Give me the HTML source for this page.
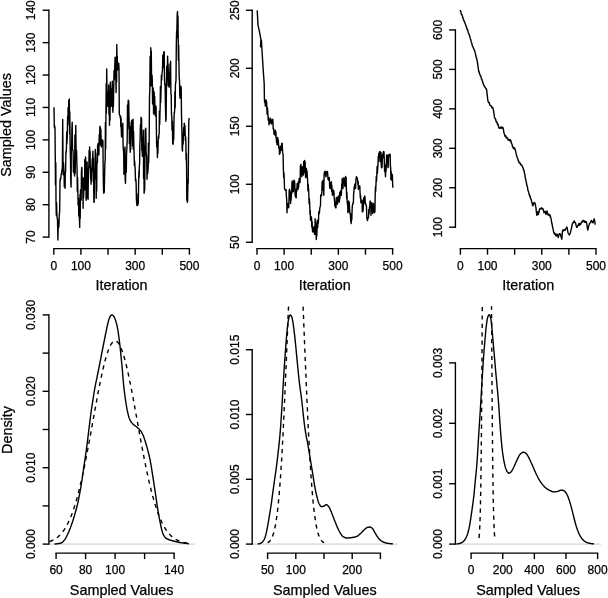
<!DOCTYPE html>
<html><head><meta charset="utf-8"><title>MCMC trace and density plots</title>
<style>
html,body{margin:0;padding:0;background:#fff;}
svg{display:block;font-family:"Liberation Sans",Arial,Helvetica,sans-serif;fill:#000;}
text{stroke:#000;stroke-width:0.25px;}
</style></head><body>
<svg width="608" height="598" viewBox="0 0 608 598">
<rect x="0" y="0" width="608" height="598" fill="#fff"/>
<line x1="53.10" y1="248.65" x2="190.10" y2="248.65" stroke="#000" stroke-width="1.4"/>
<line x1="53.80" y1="248.65" x2="53.80" y2="254.65" stroke="#000" stroke-width="1.4"/>
<line x1="80.92" y1="248.65" x2="80.92" y2="254.65" stroke="#000" stroke-width="1.4"/>
<line x1="108.04" y1="248.65" x2="108.04" y2="254.65" stroke="#000" stroke-width="1.4"/>
<line x1="135.16" y1="248.65" x2="135.16" y2="254.65" stroke="#000" stroke-width="1.4"/>
<line x1="162.28" y1="248.65" x2="162.28" y2="254.65" stroke="#000" stroke-width="1.4"/>
<line x1="189.40" y1="248.65" x2="189.40" y2="254.65" stroke="#000" stroke-width="1.4"/>
<text x="53.80" y="269.60" text-anchor="middle" font-size="12">0</text>
<text x="80.92" y="269.60" text-anchor="middle" font-size="12">100</text>
<text x="135.16" y="269.60" text-anchor="middle" font-size="12">300</text>
<text x="189.40" y="269.60" text-anchor="middle" font-size="12">500</text>
<text x="121.60" y="289.70" text-anchor="middle" font-size="14.4">Iteration</text>
<line x1="256.30" y1="248.65" x2="393.30" y2="248.65" stroke="#000" stroke-width="1.4"/>
<line x1="257.00" y1="248.65" x2="257.00" y2="254.65" stroke="#000" stroke-width="1.4"/>
<line x1="284.12" y1="248.65" x2="284.12" y2="254.65" stroke="#000" stroke-width="1.4"/>
<line x1="311.24" y1="248.65" x2="311.24" y2="254.65" stroke="#000" stroke-width="1.4"/>
<line x1="338.36" y1="248.65" x2="338.36" y2="254.65" stroke="#000" stroke-width="1.4"/>
<line x1="365.48" y1="248.65" x2="365.48" y2="254.65" stroke="#000" stroke-width="1.4"/>
<line x1="392.60" y1="248.65" x2="392.60" y2="254.65" stroke="#000" stroke-width="1.4"/>
<text x="257.00" y="269.60" text-anchor="middle" font-size="12">0</text>
<text x="284.12" y="269.60" text-anchor="middle" font-size="12">100</text>
<text x="338.36" y="269.60" text-anchor="middle" font-size="12">300</text>
<text x="392.60" y="269.60" text-anchor="middle" font-size="12">500</text>
<text x="324.80" y="289.70" text-anchor="middle" font-size="14.4">Iteration</text>
<line x1="459.70" y1="248.65" x2="596.70" y2="248.65" stroke="#000" stroke-width="1.4"/>
<line x1="460.40" y1="248.65" x2="460.40" y2="254.65" stroke="#000" stroke-width="1.4"/>
<line x1="487.52" y1="248.65" x2="487.52" y2="254.65" stroke="#000" stroke-width="1.4"/>
<line x1="514.64" y1="248.65" x2="514.64" y2="254.65" stroke="#000" stroke-width="1.4"/>
<line x1="541.76" y1="248.65" x2="541.76" y2="254.65" stroke="#000" stroke-width="1.4"/>
<line x1="568.88" y1="248.65" x2="568.88" y2="254.65" stroke="#000" stroke-width="1.4"/>
<line x1="596.00" y1="248.65" x2="596.00" y2="254.65" stroke="#000" stroke-width="1.4"/>
<text x="460.40" y="269.60" text-anchor="middle" font-size="12">0</text>
<text x="487.52" y="269.60" text-anchor="middle" font-size="12">100</text>
<text x="541.76" y="269.60" text-anchor="middle" font-size="12">300</text>
<text x="596.00" y="269.60" text-anchor="middle" font-size="12">500</text>
<text x="528.20" y="289.70" text-anchor="middle" font-size="14.4">Iteration</text>
<line x1="48.90" y1="9.53" x2="48.90" y2="237.80" stroke="#000" stroke-width="1.4"/>
<line x1="42.60" y1="237.10" x2="48.90" y2="237.10" stroke="#000" stroke-width="1.4"/>
<line x1="42.60" y1="204.69" x2="48.90" y2="204.69" stroke="#000" stroke-width="1.4"/>
<line x1="42.60" y1="172.28" x2="48.90" y2="172.28" stroke="#000" stroke-width="1.4"/>
<line x1="42.60" y1="139.87" x2="48.90" y2="139.87" stroke="#000" stroke-width="1.4"/>
<line x1="42.60" y1="107.46" x2="48.90" y2="107.46" stroke="#000" stroke-width="1.4"/>
<line x1="42.60" y1="75.05" x2="48.90" y2="75.05" stroke="#000" stroke-width="1.4"/>
<line x1="42.60" y1="42.64" x2="48.90" y2="42.64" stroke="#000" stroke-width="1.4"/>
<line x1="42.60" y1="10.23" x2="48.90" y2="10.23" stroke="#000" stroke-width="1.4"/>
<text transform="translate(35.30,237.10) rotate(-90)" text-anchor="middle" font-size="12">70</text>
<text transform="translate(35.30,204.69) rotate(-90)" text-anchor="middle" font-size="12">80</text>
<text transform="translate(35.30,172.28) rotate(-90)" text-anchor="middle" font-size="12">90</text>
<text transform="translate(35.30,139.87) rotate(-90)" text-anchor="middle" font-size="12">100</text>
<text transform="translate(35.30,107.46) rotate(-90)" text-anchor="middle" font-size="12">110</text>
<text transform="translate(35.30,75.05) rotate(-90)" text-anchor="middle" font-size="12">120</text>
<text transform="translate(35.30,42.64) rotate(-90)" text-anchor="middle" font-size="12">130</text>
<text transform="translate(35.30,10.23) rotate(-90)" text-anchor="middle" font-size="12">140</text>
<line x1="252.20" y1="9.60" x2="252.20" y2="243.00" stroke="#000" stroke-width="1.4"/>
<line x1="245.90" y1="242.30" x2="252.20" y2="242.30" stroke="#000" stroke-width="1.4"/>
<line x1="245.90" y1="184.30" x2="252.20" y2="184.30" stroke="#000" stroke-width="1.4"/>
<line x1="245.90" y1="126.30" x2="252.20" y2="126.30" stroke="#000" stroke-width="1.4"/>
<line x1="245.90" y1="68.30" x2="252.20" y2="68.30" stroke="#000" stroke-width="1.4"/>
<line x1="245.90" y1="10.30" x2="252.20" y2="10.30" stroke="#000" stroke-width="1.4"/>
<text transform="translate(238.60,242.30) rotate(-90)" text-anchor="middle" font-size="12">50</text>
<text transform="translate(238.60,184.30) rotate(-90)" text-anchor="middle" font-size="12">100</text>
<text transform="translate(238.60,126.30) rotate(-90)" text-anchor="middle" font-size="12">150</text>
<text transform="translate(238.60,68.30) rotate(-90)" text-anchor="middle" font-size="12">200</text>
<text transform="translate(238.60,10.30) rotate(-90)" text-anchor="middle" font-size="12">250</text>
<line x1="455.40" y1="29.25" x2="455.40" y2="227.90" stroke="#000" stroke-width="1.4"/>
<line x1="449.10" y1="227.20" x2="455.40" y2="227.20" stroke="#000" stroke-width="1.4"/>
<line x1="449.10" y1="187.75" x2="455.40" y2="187.75" stroke="#000" stroke-width="1.4"/>
<line x1="449.10" y1="148.30" x2="455.40" y2="148.30" stroke="#000" stroke-width="1.4"/>
<line x1="449.10" y1="108.85" x2="455.40" y2="108.85" stroke="#000" stroke-width="1.4"/>
<line x1="449.10" y1="69.40" x2="455.40" y2="69.40" stroke="#000" stroke-width="1.4"/>
<line x1="449.10" y1="29.95" x2="455.40" y2="29.95" stroke="#000" stroke-width="1.4"/>
<text transform="translate(441.80,227.20) rotate(-90)" text-anchor="middle" font-size="12">100</text>
<text transform="translate(441.80,187.75) rotate(-90)" text-anchor="middle" font-size="12">200</text>
<text transform="translate(441.80,148.30) rotate(-90)" text-anchor="middle" font-size="12">300</text>
<text transform="translate(441.80,108.85) rotate(-90)" text-anchor="middle" font-size="12">400</text>
<text transform="translate(441.80,69.40) rotate(-90)" text-anchor="middle" font-size="12">500</text>
<text transform="translate(441.80,29.95) rotate(-90)" text-anchor="middle" font-size="12">600</text>
<text transform="translate(11.40,124.90) rotate(-90)" text-anchor="middle" font-size="14.4">Sampled Values</text>
<polyline fill="none" stroke="#000" stroke-width="1.4" stroke-linejoin="round" stroke-linecap="butt" points="54.0,107.2 54.3,126.0 54.5,127.9 54.8,126.0 55.0,129.0 55.3,160.0 55.5,185.0 55.8,162.7 56.0,200.0 56.3,215.2 56.5,202.4 56.8,212.3 57.1,218.0 57.5,219.0 57.9,240.0 58.3,221.0 58.6,226.7 58.9,227.0 59.2,216.7 59.5,213.0 59.7,209.7 60.0,180.2 60.2,181.0 60.5,178.0 60.7,179.2 61.0,176.0 61.2,174.0 61.5,174.5 61.7,171.0 61.9,170.8 62.2,168.3 62.4,168.0 62.7,119.4 63.0,160.0 63.3,174.8 63.5,162.8 63.8,168.9 64.1,175.0 64.3,186.7 64.6,177.8 64.8,181.3 65.1,188.2 65.3,172.0 65.6,172.0 65.9,151.8 66.1,152.8 66.4,150.0 66.7,131.9 66.9,143.8 67.2,137.8 67.4,130.0 67.6,116.7 67.9,124.7 68.1,107.4 68.3,109.6 68.6,118.0 68.8,100.3 69.1,115.1 69.3,99.0 69.6,133.9 69.8,111.9 70.1,143.5 70.5,160.0 70.8,182.2 71.1,187.0 71.3,149.0 71.6,150.0 71.9,129.4 72.2,122.2 72.5,149.2 72.8,150.0 73.1,150.8 73.4,172.0 73.6,164.9 73.9,168.6 74.1,160.0 74.3,173.2 74.6,176.0 74.9,135.0 75.2,173.2 75.5,147.6 75.8,125.5 76.1,149.7 76.4,150.0 76.6,151.9 76.9,164.8 77.1,170.0 77.3,191.3 77.6,177.2 77.8,189.3 78.1,205.0 78.5,198.0 78.8,216.3 79.1,204.8 79.4,217.6 79.7,227.4 80.0,194.5 80.2,218.5 80.5,190.0 80.7,196.2 81.0,193.5 81.2,200.0 81.4,173.3 81.7,167.6 81.9,167.5 82.2,181.6 82.5,185.0 82.8,187.6 83.1,208.3 83.3,177.9 83.6,197.8 83.8,188.4 84.1,178.0 84.3,190.0 84.6,190.0 84.8,159.8 85.1,179.7 85.3,166.7 85.6,157.0 85.8,163.2 86.1,200.3 86.3,172.9 86.6,198.0 86.8,178.6 87.1,162.0 87.3,175.8 87.6,180.0 87.8,197.9 88.1,199.3 88.4,170.2 88.6,168.0 88.9,165.0 89.1,150.4 89.4,162.4 89.6,147.0 89.8,166.9 90.1,151.5 90.3,170.0 90.6,179.2 90.8,172.1 91.1,184.2 91.4,167.7 91.7,181.3 92.0,165.0 92.3,158.6 92.6,161.4 92.9,151.3 93.1,171.2 93.4,157.9 93.6,180.0 93.9,201.8 94.2,202.3 94.5,170.0 94.8,170.0 95.0,168.7 95.3,149.5 95.6,178.8 95.9,163.3 96.2,198.3 96.4,165.8 96.7,191.1 96.9,165.0 97.1,153.3 97.4,162.7 97.6,145.0 97.8,146.4 98.1,143.5 98.3,143.5 98.6,151.7 98.9,155.0 99.2,134.6 99.4,144.8 99.7,134.4 99.9,126.1 100.3,128.0 100.6,145.0 100.8,128.9 101.1,137.4 101.4,147.0 101.7,141.3 102.0,145.6 102.3,141.3 102.6,140.0 102.9,141.0 103.2,170.0 103.5,190.0 103.8,193.2 104.1,177.9 104.3,192.3 104.6,175.0 104.9,162.3 105.2,160.0 105.4,122.4 105.7,148.9 105.9,118.0 106.2,83.5 106.4,112.9 106.7,69.0 107.0,90.3 107.3,95.0 107.5,104.1 107.8,100.6 108.0,106.5 108.2,92.3 108.5,100.2 108.7,85.0 109.0,114.5 109.2,91.7 109.5,125.2 109.8,98.9 110.0,120.0 110.3,82.2 110.6,102.2 110.9,103.6 111.2,106.2 111.5,88.7 111.8,98.5 112.0,90.9 112.3,81.2 112.6,106.5 112.9,112.3 113.2,97.7 113.4,106.8 113.7,90.0 114.0,70.8 114.3,79.7 114.5,73.3 114.8,65.2 115.1,57.2 115.3,57.2 115.6,75.0 115.8,78.0 116.1,92.5 116.3,64.7 116.6,82.0 116.8,44.5 117.1,62.6 117.3,56.4 117.6,70.0 117.9,65.4 118.2,68.7 118.4,66.2 118.7,63.2 119.0,68.1 119.3,114.2 119.6,115.0 119.8,115.1 120.1,115.9 120.3,117.9 120.6,116.2 120.8,126.8 121.1,118.0 121.3,130.0 121.5,136.7 121.8,130.1 122.0,137.0 122.3,125.1 122.5,133.2 122.8,123.2 123.1,146.4 123.4,150.0 123.7,153.6 123.9,174.2 124.2,150.0 124.6,168.0 125.0,147.0 125.2,180.0 125.5,183.2 125.9,158.0 126.3,172.0 126.5,154.8 126.8,150.0 127.2,140.0 127.5,105.0 127.7,128.8 127.9,113.5 128.2,100.3 128.4,119.3 128.7,100.8 128.9,112.2 129.2,125.0 129.4,143.6 129.7,126.2 129.9,140.5 130.2,152.3 130.5,138.9 130.7,149.8 131.0,135.0 131.2,122.1 131.5,132.6 131.7,120.2 132.0,133.8 132.3,128.2 132.6,146.0 132.8,143.9 133.1,119.2 133.3,149.0 133.6,131.4 133.8,144.0 134.1,154.0 134.4,165.5 134.6,161.0 134.9,165.2 135.2,170.0 135.5,181.0 135.8,179.3 136.1,182.0 136.4,199.0 136.6,201.7 136.9,205.5 137.2,203.5 137.4,204.8 137.7,205.3 138.0,193.6 138.3,203.7 138.6,185.0 138.9,171.0 139.1,177.2 139.4,165.0 139.6,165.0 139.9,142.4 140.1,140.0 140.4,124.9 140.7,132.8 141.0,117.3 141.3,118.5 141.6,118.9 141.8,150.5 142.1,149.2 142.4,156.3 142.7,137.7 142.9,148.0 143.2,138.9 143.4,130.2 143.6,178.6 143.9,145.1 144.1,193.2 144.4,190.9 144.7,190.0 145.0,150.0 145.3,129.3 145.5,149.0 145.8,128.2 146.1,152.0 146.4,155.0 146.7,156.4 147.0,179.2 147.3,172.2 147.6,173.6 147.9,171.7 148.2,168.0 148.4,143.1 148.7,162.7 148.9,153.7 149.2,140.0 149.5,97.4 149.8,90.0 150.1,56.5 150.3,86.1 150.6,67.6 150.8,47.8 151.1,72.7 151.3,51.3 151.6,86.0 152.0,75.0 152.3,80.5 152.6,104.0 152.9,99.8 153.2,88.0 153.6,114.0 153.9,111.8 154.2,92.0 154.4,112.9 154.7,96.4 154.9,105.4 155.2,115.3 155.5,115.9 155.8,106.0 156.1,107.5 156.4,130.0 156.7,146.7 156.9,141.4 157.2,146.7 157.4,157.5 157.7,144.9 157.9,153.3 158.2,140.0 158.4,136.6 158.7,138.5 158.9,134.6 159.2,134.0 159.4,110.9 159.7,124.5 159.9,116.0 160.2,106.0 160.4,86.6 160.7,102.5 160.9,94.1 161.2,85.0 161.4,75.3 161.7,79.9 161.9,75.4 162.2,72.0 162.5,70.6 162.8,55.2 163.1,67.4 163.4,66.0 163.7,51.9 163.9,63.4 164.2,51.8 164.5,79.4 164.8,85.0 165.1,84.1 165.4,104.0 165.8,121.2 166.1,118.8 166.4,90.0 166.7,66.3 167.0,85.9 167.3,70.1 167.6,56.2 167.9,66.7 168.1,64.3 168.4,75.0 168.7,86.2 168.9,74.6 169.2,87.3 169.4,72.3 169.7,84.4 169.9,70.0 170.1,63.8 170.4,67.1 170.6,61.2 170.9,93.4 171.2,95.0 171.5,115.3 171.8,116.2 172.0,130.3 172.3,121.1 172.5,130.0 172.7,143.8 173.0,133.6 173.2,144.2 173.4,127.8 173.7,139.7 173.9,125.0 174.2,112.4 174.4,113.2 174.7,110.0 174.9,91.7 175.2,107.5 175.4,85.0 175.7,82.5 176.0,80.8 176.3,46.2 176.6,31.9 176.9,30.0 177.2,14.5 177.5,11.5 177.7,37.7 178.0,16.0 178.2,40.0 178.4,60.2 178.7,45.3 178.9,60.2 179.2,78.4 179.5,80.0 179.8,95.1 180.1,98.3 180.4,90.1 180.6,96.6 180.9,86.3 181.2,87.9 181.5,115.0 181.9,130.2 182.2,149.7 182.5,151.0 182.8,136.2 183.1,144.4 183.4,135.0 183.7,127.5 184.0,135.4 184.3,123.2 184.6,134.9 184.9,125.1 185.2,135.0 185.4,140.4 185.7,137.0 185.9,144.3 186.1,160.1 186.4,153.2 186.6,170.0 186.8,200.2 187.1,179.1 187.3,202.3 187.6,201.0 187.9,185.0 188.2,182.8 188.5,150.0 188.8,120.1 189.0,119.6 189.3,118.0"/>
<polyline fill="none" stroke="#000" stroke-width="1.4" stroke-linejoin="round" stroke-linecap="butt" points="257.2,10.4 258.0,25.1 259.5,31.8 260.9,39.3 260.5,46.8 261.4,40.1 262.0,50.2 263.0,66.9 264.2,83.6 264.4,98.0 264.6,102.3 264.9,100.3 265.1,102.8 265.4,106.1 265.6,100.7 265.9,105.0 266.1,100.0 266.3,101.2 266.6,101.9 266.8,107.4 267.1,114.2 267.4,107.5 267.7,111.9 268.0,115.4 268.2,120.2 268.5,117.3 268.8,120.8 269.0,124.8 269.3,120.4 269.6,123.3 269.8,121.6 270.1,119.5 270.4,118.1 270.7,119.3 271.0,122.4 271.3,123.4 271.6,123.9 271.9,120.8 272.1,119.7 272.4,119.4 272.7,119.3 272.9,120.6 273.2,128.9 273.4,128.4 273.7,128.8 274.0,134.1 274.2,131.2 274.5,133.2 274.8,134.8 275.1,133.2 275.3,130.1 275.6,135.8 275.9,131.6 276.1,137.7 276.4,139.5 276.6,142.6 276.9,140.5 277.1,144.8 277.4,139.8 277.7,137.5 278.0,144.9 278.2,139.7 278.5,143.8 278.8,147.5 279.0,148.2 279.3,149.5 279.5,154.2 279.8,149.6 280.1,153.4 280.4,146.2 280.6,147.0 280.9,148.6 281.1,149.7 281.4,150.2 281.7,143.3 281.9,148.7 282.2,143.5 282.5,150.7 282.8,152.9 283.1,154.7 283.4,170.0 283.7,177.4 283.9,172.6 284.2,178.4 284.5,188.4 284.8,189.4 285.1,189.2 285.4,190.1 285.6,190.5 285.9,189.6 286.1,189.6 286.4,196.8 286.7,199.6 287.0,212.7 287.2,206.9 287.5,207.9 287.8,206.2 288.0,203.5 288.2,203.9 288.5,205.5 288.7,207.7 288.9,203.3 289.2,189.9 289.4,190.7 289.7,189.3 290.0,197.5 290.3,191.6 290.6,203.5 290.9,198.4 291.1,199.9 291.4,193.5 291.7,193.8 291.9,183.9 292.2,180.9 292.5,188.2 292.8,186.1 293.1,191.8 293.4,191.5 293.6,182.9 293.9,180.1 294.2,180.7 294.5,181.4 294.8,183.9 295.1,194.3 295.4,196.5 295.6,195.4 295.9,197.6 296.2,197.7 296.4,189.1 296.7,191.6 296.9,188.7 297.2,183.4 297.5,187.2 297.8,186.2 298.1,189.3 298.4,181.4 298.6,187.3 298.9,182.2 299.2,178.4 299.5,179.9 299.8,181.0 300.1,182.6 300.4,166.7 300.6,165.1 300.9,164.5 301.2,167.3 301.5,173.8 301.8,176.8 302.1,171.8 302.3,174.0 302.6,166.7 302.9,169.1 303.1,169.8 303.4,175.1 303.7,161.6 304.0,173.0 304.3,165.5 304.6,160.4 304.9,169.3 305.1,161.7 305.4,170.1 305.6,177.6 305.9,170.2 306.1,169.3 306.4,168.4 306.7,176.9 307.0,171.0 307.3,176.6 307.6,180.1 307.9,190.7 308.2,184.3 308.5,188.4 308.8,193.5 309.1,203.8 309.3,198.5 309.6,202.4 309.8,206.9 310.0,214.6 310.3,210.6 310.5,220.2 310.8,220.1 311.0,217.7 311.2,218.7 311.5,216.9 311.8,227.0 312.1,221.4 312.3,228.3 312.6,231.9 312.9,231.4 313.2,229.6 313.5,227.4 313.8,226.9 314.1,232.4 314.3,230.1 314.6,234.4 314.9,234.3 315.1,218.6 315.4,232.5 315.7,221.7 316.0,231.6 316.3,239.5 316.6,230.2 316.8,236.0 317.1,228.6 317.4,220.1 317.7,227.4 317.9,223.5 318.2,223.5 318.5,220.2 318.8,211.8 319.1,213.5 319.4,213.1 319.6,210.5 319.9,207.5 320.2,206.9 320.5,205.4 320.7,195.5 321.0,194.6 321.3,194.5 321.5,195.7 321.8,193.5 322.1,181.6 322.4,190.4 322.7,184.8 323.0,180.1 323.3,188.4 323.5,184.2 323.8,195.2 324.1,174.6 324.4,172.4 324.7,171.7 325.0,174.2 325.2,171.3 325.5,174.5 325.7,175.7 326.0,176.8 326.3,173.0 326.6,171.8 326.9,171.4 327.2,171.4 327.5,171.7 327.7,173.9 328.0,179.3 328.2,179.2 328.5,180.1 328.8,178.4 329.0,177.5 329.3,177.6 329.6,186.1 329.9,188.3 330.2,186.8 330.5,188.5 330.8,182.5 331.1,188.1 331.4,181.8 331.6,191.3 331.9,185.4 332.1,190.0 332.4,195.2 332.7,194.6 332.9,190.5 333.2,190.5 333.5,190.1 333.8,191.3 334.0,192.8 334.2,198.4 334.5,200.2 334.8,205.7 335.0,202.4 335.2,204.6 335.5,207.7 335.8,206.7 336.0,207.7 336.2,198.4 336.5,197.5 336.8,203.7 337.0,199.5 337.2,203.6 337.5,204.3 337.8,197.1 338.0,199.6 338.2,197.3 338.5,196.0 338.8,200.8 339.1,202.0 339.4,201.9 339.7,192.4 339.9,198.6 340.2,194.6 340.5,191.0 340.8,192.9 341.1,192.5 341.4,195.2 341.7,184.1 341.9,188.2 342.2,178.5 342.5,186.8 342.7,181.0 343.0,188.5 343.3,180.0 343.6,179.7 343.9,177.6 344.2,182.0 344.4,179.3 344.7,186.0 345.0,179.0 345.3,180.9 345.6,176.5 345.9,187.0 346.1,177.5 346.4,190.2 346.7,198.5 346.9,192.1 347.2,201.9 347.4,204.1 347.7,202.4 347.9,212.7 348.2,210.4 348.4,211.4 348.7,201.0 349.0,205.8 349.3,202.1 349.6,208.6 349.9,212.9 350.1,213.9 350.4,213.6 350.7,221.6 350.9,216.0 351.2,223.6 351.5,214.3 351.8,220.1 352.1,210.2 352.4,205.2 352.6,205.1 352.9,203.0 353.1,203.5 353.4,203.0 353.6,194.4 353.9,191.8 354.2,186.9 354.4,188.6 354.7,184.3 355.0,184.3 355.3,185.8 355.6,188.5 355.9,180.0 356.1,179.0 356.4,176.8 356.7,178.2 357.0,177.5 357.3,178.8 357.6,180.1 357.9,184.4 358.1,181.4 358.4,189.3 358.7,187.2 359.0,187.0 359.3,186.0 359.6,187.4 359.8,185.9 360.1,193.5 360.4,198.2 360.6,195.7 360.9,202.7 361.2,202.2 361.5,200.9 361.8,200.2 362.1,200.2 362.3,211.9 362.6,211.1 362.9,211.5 363.1,210.0 363.4,205.2 363.7,197.7 364.0,203.8 364.2,200.1 364.5,198.1 364.8,196.0 365.1,199.1 365.3,202.6 365.6,203.5 365.9,205.2 366.2,205.4 366.5,206.9 366.8,217.4 367.1,219.4 367.4,220.5 367.7,219.0 367.9,217.9 368.2,217.6 368.5,217.8 368.8,209.4 369.0,214.3 369.2,211.1 369.5,206.9 369.8,205.6 370.1,201.0 370.4,202.4 370.7,202.5 371.0,215.3 371.3,203.8 371.5,203.0 371.8,202.7 372.1,209.1 372.3,205.0 372.6,213.6 372.9,207.3 373.2,208.9 373.5,203.5 373.8,211.9 374.0,206.9 374.3,212.7 374.6,212.6 374.9,211.7 375.2,195.2 375.5,186.8 375.7,191.2 376.0,183.5 376.3,176.5 376.5,181.3 376.8,175.1 377.1,166.5 377.4,173.3 377.7,168.4 378.0,165.1 378.3,156.1 378.5,161.1 378.8,153.4 379.1,152.9 379.4,152.9 379.7,151.7 380.0,151.5 380.2,161.4 380.5,161.7 380.8,152.7 381.0,152.5 381.3,166.5 381.5,167.9 381.8,167.6 382.1,167.1 382.4,155.0 382.7,155.1 383.0,154.5 383.2,152.4 383.5,151.4 383.8,158.0 384.0,151.8 384.3,161.7 384.6,171.2 384.9,164.7 385.2,172.0 385.5,176.8 385.8,167.7 386.1,171.4 386.4,161.7 386.6,155.6 386.9,154.9 387.1,155.1 387.4,155.1 387.7,157.0 387.9,167.0 388.2,167.6 388.5,155.0 388.7,156.6 389.0,155.1 389.3,154.6 389.6,154.7 389.9,154.2 390.2,154.9 390.4,165.7 390.7,168.4 390.9,179.6 391.2,171.5 391.4,180.1 391.7,174.4 391.9,174.2 392.2,174.3 392.4,176.5 392.7,185.4 392.9,187.7"/>
<polyline fill="none" stroke="#000" stroke-width="1.4" stroke-linejoin="round" stroke-linecap="butt" points="460.2,10.0 460.5,11.2 460.8,11.4 461.0,12.6 461.3,14.0 461.6,14.9 461.9,14.5 462.1,15.4 462.4,16.0 462.7,17.6 463.0,17.5 463.2,18.9 463.5,19.9 463.8,20.0 464.1,21.3 464.3,21.8 464.6,21.6 464.9,23.1 465.2,23.4 465.4,24.3 465.7,25.1 466.0,26.1 466.2,26.5 466.5,26.8 466.8,28.1 467.1,29.2 467.4,29.2 467.6,29.8 467.9,30.8 468.2,32.4 468.4,33.2 468.7,33.4 469.0,33.9 469.3,35.4 469.5,35.6 469.8,36.0 470.1,37.9 470.3,38.7 470.6,39.3 470.9,40.0 471.1,41.2 471.4,42.3 471.7,42.9 471.9,43.8 472.2,45.1 472.5,46.4 472.7,46.6 473.0,46.8 473.3,47.5 473.6,48.5 473.8,48.8 474.1,49.5 474.4,50.6 474.7,50.7 474.9,52.0 475.2,52.7 475.5,54.1 475.7,55.3 476.0,56.3 476.2,57.4 476.5,58.0 476.8,59.6 477.0,60.1 477.3,61.5 477.6,63.4 477.9,65.8 478.2,67.3 478.5,70.2 478.8,71.8 479.0,71.4 479.3,72.9 479.6,73.6 479.9,74.6 480.1,75.0 480.4,76.0 480.7,75.9 481.0,76.7 481.2,77.7 481.5,79.0 481.8,79.1 482.1,79.8 482.3,81.2 482.6,81.3 482.9,83.2 483.2,83.5 483.4,84.0 483.7,84.9 484.0,85.3 484.3,86.4 484.6,86.7 484.8,86.9 485.1,86.9 485.4,87.9 485.7,88.2 485.9,88.4 486.2,89.3 486.5,89.0 486.8,91.0 487.0,93.6 487.3,95.3 487.5,97.5 487.8,100.3 488.1,101.3 488.4,102.2 488.6,102.5 488.9,102.6 489.2,102.4 489.5,103.6 489.7,104.9 490.0,105.2 490.3,105.3 490.6,105.6 490.8,105.5 491.1,105.8 491.4,106.0 491.7,107.7 491.9,107.6 492.2,107.1 492.5,107.9 492.8,107.7 493.0,108.3 493.3,109.1 493.6,111.1 493.8,112.6 494.1,114.0 494.3,116.4 494.6,117.9 494.9,118.3 495.1,118.3 495.4,118.8 495.7,119.3 495.9,121.3 496.2,121.1 496.5,122.1 496.7,121.6 497.0,122.2 497.3,123.5 497.5,124.3 497.8,124.2 498.1,124.2 498.3,126.3 498.6,126.1 498.8,127.5 499.1,127.9 499.4,128.2 499.6,128.4 499.9,128.2 500.2,127.5 500.4,128.1 500.7,127.1 501.0,127.4 501.2,127.5 501.5,128.2 501.7,127.0 502.0,128.1 502.3,127.9 502.5,128.2 502.8,127.4 503.1,128.1 503.4,129.3 503.7,131.4 503.9,132.7 504.2,133.4 504.5,134.2 504.8,135.4 505.1,136.3 505.3,136.6 505.6,135.7 505.9,136.2 506.1,137.5 506.4,137.9 506.7,137.3 507.0,137.6 507.2,138.2 507.5,138.7 507.8,138.3 508.0,139.8 508.3,139.6 508.6,140.3 508.8,139.8 509.1,140.5 509.4,140.7 509.7,139.8 510.0,140.5 510.3,139.6 510.6,141.0 510.9,140.5 511.1,141.4 511.4,143.3 511.7,143.4 512.0,144.6 512.3,144.9 512.5,147.0 512.8,147.1 513.1,147.9 513.4,147.3 513.6,148.1 513.9,147.6 514.1,149.0 514.4,148.5 514.6,148.0 514.9,148.8 515.2,149.9 515.4,150.2 515.7,151.5 516.0,152.9 516.3,154.1 516.5,155.3 516.8,156.2 517.1,156.8 517.3,158.0 517.6,158.1 517.9,159.0 518.2,160.7 518.5,160.4 518.7,161.4 519.0,162.6 519.3,162.8 519.5,162.3 519.8,162.6 520.1,163.6 520.3,163.3 520.6,164.4 520.8,164.9 521.1,164.8 521.4,165.2 521.6,165.0 521.9,165.4 522.2,166.0 522.5,166.6 522.7,167.6 523.0,167.6 523.3,168.4 523.5,170.0 523.8,169.8 524.1,170.9 524.4,173.1 524.6,173.5 524.9,174.7 525.1,177.1 525.4,178.2 525.6,179.6 525.9,179.9 526.1,181.8 526.4,182.3 526.6,184.0 526.9,185.6 527.2,186.0 527.5,187.4 527.8,189.6 528.0,190.7 528.3,190.9 528.6,192.4 528.9,193.3 529.2,194.2 529.5,195.6 529.8,195.2 530.1,197.1 530.3,196.6 530.6,198.7 530.9,199.2 531.2,199.7 531.5,201.0 531.7,201.6 532.0,203.1 532.3,203.1 532.5,204.7 532.8,205.7 533.0,205.7 533.3,203.9 533.5,203.3 533.8,203.0 534.1,202.8 534.3,202.5 534.6,203.6 534.8,203.2 535.1,203.4 535.4,204.7 535.6,206.2 535.9,207.4 536.1,208.9 536.3,211.7 536.6,213.4 536.8,215.3 537.0,215.0 537.3,213.1 537.5,213.2 537.8,211.6 538.1,213.1 538.4,214.5 538.7,212.7 539.0,212.5 539.2,210.3 539.5,209.6 539.8,208.8 540.0,208.5 540.3,209.1 540.6,208.7 540.8,208.8 541.1,208.3 541.4,209.1 541.6,207.7 541.9,208.7 542.2,208.7 542.5,208.8 542.7,208.7 543.0,208.7 543.3,210.3 543.5,210.7 543.8,211.9 544.1,212.9 544.4,211.9 544.7,212.1 545.0,211.3 545.3,211.6 545.6,212.3 545.9,214.5 546.2,213.1 546.5,212.7 546.7,211.9 547.0,210.9 547.2,211.9 547.5,213.5 547.8,213.7 548.0,214.9 548.3,214.9 548.5,215.0 548.8,214.3 549.1,215.3 549.3,215.0 549.6,214.5 549.9,215.3 550.1,216.8 550.4,216.0 550.6,217.1 550.9,218.2 551.2,218.8 551.4,221.2 551.7,222.2 551.9,223.8 552.2,224.7 552.5,226.9 552.8,227.4 553.0,229.2 553.3,229.8 553.6,232.0 553.9,232.3 554.1,233.5 554.4,233.9 554.6,232.9 554.9,233.9 555.2,233.7 555.4,234.2 555.7,235.5 555.9,235.6 556.2,235.9 556.5,235.4 556.7,234.3 557.0,234.5 557.2,234.2 557.5,235.6 557.7,236.0 558.0,236.3 558.2,237.6 558.5,236.6 558.7,235.9 559.0,234.3 559.2,233.9 559.5,233.8 559.7,234.0 560.0,233.6 560.2,234.7 560.5,234.6 560.8,235.7 561.0,236.6 561.3,237.7 561.5,237.9 561.8,239.2 562.0,236.8 562.3,233.4 562.5,230.7 562.8,231.2 563.0,229.7 563.3,231.0 563.6,229.9 563.8,229.9 564.1,230.0 564.4,229.8 564.6,230.2 564.9,229.7 565.1,230.4 565.4,229.7 565.7,229.2 565.9,228.2 566.2,228.2 566.5,228.0 566.7,227.2 567.0,227.1 567.2,228.0 567.5,229.8 567.8,231.3 568.0,232.6 568.3,233.5 568.5,233.9 568.8,233.9 569.0,234.4 569.3,235.0 569.6,234.0 569.9,233.9 570.1,233.6 570.4,232.7 570.7,231.3 571.0,229.9 571.2,229.3 571.5,228.3 571.7,226.9 572.0,225.5 572.2,224.7 572.5,223.5 572.8,223.3 573.0,222.5 573.3,222.8 573.6,222.7 573.9,221.4 574.2,220.9 574.5,222.3 574.7,222.0 575.0,222.5 575.3,222.8 575.6,223.1 575.9,224.6 576.1,225.3 576.4,226.4 576.7,227.4 577.0,227.4 577.3,227.0 577.5,226.2 577.8,225.8 578.1,225.0 578.3,225.4 578.6,224.1 578.9,223.6 579.1,224.7 579.4,225.2 579.6,225.2 579.9,224.7 580.2,223.5 580.4,224.4 580.7,224.3 580.9,223.6 581.2,222.8 581.5,222.3 581.8,222.6 582.1,221.3 582.3,222.1 582.6,221.4 582.9,220.4 583.2,220.8 583.5,220.8 583.7,220.5 584.0,220.8 584.3,222.1 584.6,221.2 584.8,222.4 585.1,222.1 585.4,221.4 585.6,221.9 585.9,222.4 586.1,221.8 586.4,221.8 586.7,223.2 587.0,225.3 587.2,226.3 587.5,228.9 587.8,230.0 588.1,229.0 588.3,227.6 588.6,226.6 588.8,225.9 589.1,224.7 589.4,224.3 589.6,223.6 589.9,223.3 590.1,222.9 590.4,222.8 590.7,221.9 590.9,221.6 591.2,221.1 591.4,220.4 591.7,220.8 592.0,221.8 592.2,222.2 592.5,222.0 592.7,222.3 593.0,222.8 593.3,221.8 593.5,220.9 593.8,220.0 594.1,218.8 594.4,220.5 594.6,220.5 594.9,222.4 595.1,224.2 595.4,224.7"/>
<defs>
<clipPath id="c0"><rect x="48.9" y="306.3" width="146.0" height="246.8"/></clipPath>
<clipPath id="c1"><rect x="252.2" y="306.3" width="145.7" height="246.8"/></clipPath>
<clipPath id="c2"><rect x="455.4" y="306.3" width="145.60000000000002" height="246.8"/></clipPath>
</defs>
<line x1="48.90" y1="544.10" x2="194.90" y2="544.10" stroke="#d3d3d3" stroke-width="1.4"/>
<line x1="252.20" y1="544.10" x2="397.90" y2="544.10" stroke="#d3d3d3" stroke-width="1.4"/>
<line x1="455.40" y1="544.10" x2="601.00" y2="544.10" stroke="#d3d3d3" stroke-width="1.4"/>
<polyline fill="none" stroke="#000" stroke-width="1.4" stroke-linejoin="round" stroke-linecap="butt" clip-path="url(#c0)" points="54.5,544.0 54.9,544.0 55.3,544.0 55.7,543.9 56.1,543.9 56.5,543.9 56.9,543.8 57.3,543.8 57.7,543.7 58.1,543.7 58.5,543.6 58.9,543.5 59.3,543.5 59.7,543.4 60.1,543.3 60.5,543.2 60.9,543.0 61.3,542.9 61.7,542.7 62.1,542.5 62.5,542.1 62.9,541.8 63.3,541.4 63.7,540.9 64.1,540.4 64.5,539.9 64.9,539.4 65.3,538.8 65.7,538.1 66.1,537.3 66.5,536.6 66.9,535.8 67.3,535.0 67.7,534.2 68.1,533.3 68.5,532.4 68.9,531.4 69.3,530.4 69.7,529.4 70.1,528.4 70.5,527.4 70.9,526.3 71.3,525.3 71.7,524.1 72.1,523.0 72.5,521.8 72.9,520.6 73.3,519.3 73.7,518.1 74.1,516.7 74.5,515.4 74.9,514.0 75.3,512.6 75.7,511.2 76.1,509.7 76.5,508.2 76.9,506.7 77.3,505.1 77.7,503.4 78.1,501.6 78.5,499.7 78.9,497.7 79.3,495.6 79.7,493.5 80.1,491.3 80.5,489.1 80.9,486.8 81.3,484.4 81.7,481.9 82.1,479.3 82.5,476.5 82.9,473.6 83.3,470.7 83.7,467.9 84.1,465.2 84.5,462.6 84.9,459.9 85.3,457.2 85.7,454.4 86.1,451.5 86.5,448.6 86.9,445.6 87.3,442.5 87.7,439.3 88.1,436.0 88.5,432.7 88.9,429.3 89.3,426.1 89.7,422.9 90.1,419.6 90.5,416.5 90.9,413.5 91.3,410.7 91.7,407.9 92.1,405.3 92.5,402.7 92.9,400.1 93.3,397.5 93.7,395.0 94.1,392.5 94.5,390.1 94.9,387.8 95.3,385.6 95.7,383.6 96.1,381.7 96.5,379.8 96.9,377.9 97.3,376.0 97.7,374.0 98.1,372.0 98.5,370.0 98.9,368.0 99.3,366.0 99.7,364.0 100.1,361.9 100.5,359.8 100.9,357.8 101.3,355.7 101.7,353.7 102.1,351.6 102.5,349.6 102.9,347.5 103.3,345.5 103.7,343.5 104.1,341.5 104.5,339.5 104.9,337.5 105.3,335.5 105.7,333.5 106.1,331.6 106.5,329.6 106.9,327.7 107.3,325.8 107.7,324.0 108.1,322.4 108.5,320.9 108.9,319.6 109.3,318.4 109.7,317.4 110.1,316.6 110.5,315.9 110.9,315.4 111.3,315.1 111.7,314.9 112.1,314.9 112.5,315.1 112.9,315.3 113.3,315.7 113.7,316.2 114.1,316.8 114.5,317.6 114.9,318.5 115.3,319.6 115.7,320.8 116.1,322.1 116.5,323.6 116.9,325.2 117.3,327.0 117.7,329.0 118.1,331.5 118.5,334.3 118.9,337.2 119.3,340.3 119.7,343.7 120.1,347.2 120.5,350.9 120.9,354.9 121.3,359.0 121.7,363.0 122.1,367.1 122.5,371.5 122.9,376.6 123.3,381.8 123.7,385.9 124.1,389.3 124.5,392.5 124.9,395.5 125.3,398.6 125.7,401.4 126.1,404.0 126.5,406.4 126.9,408.6 127.3,410.7 127.7,412.5 128.1,414.2 128.5,415.8 128.9,417.2 129.3,418.3 129.7,419.3 130.1,420.1 130.5,420.9 130.9,421.5 131.3,422.1 131.7,422.7 132.1,423.1 132.5,423.6 132.9,424.0 133.3,424.4 133.7,424.7 134.1,425.1 134.5,425.4 134.9,425.7 135.3,426.0 135.7,426.2 136.1,426.5 136.5,426.8 136.9,427.1 137.3,427.4 137.7,427.8 138.1,428.1 138.5,428.5 138.9,428.8 139.3,429.2 139.7,429.7 140.1,430.1 140.5,430.6 140.9,431.2 141.3,431.9 141.7,432.5 142.1,433.3 142.5,434.1 142.9,434.9 143.3,435.8 143.7,436.8 144.1,437.9 144.5,439.1 144.9,440.3 145.3,441.5 145.7,442.8 146.1,444.1 146.5,445.5 146.9,446.9 147.3,448.4 147.7,449.9 148.1,451.4 148.5,453.0 148.9,454.6 149.3,456.3 149.7,458.1 150.1,460.0 150.5,462.1 150.9,464.3 151.3,466.7 151.7,469.2 152.1,471.8 152.5,474.3 152.9,476.9 153.3,479.4 153.7,482.0 154.1,484.6 154.5,487.3 154.9,489.9 155.3,492.6 155.7,495.3 156.1,498.1 156.5,500.9 156.9,503.7 157.3,506.3 157.7,508.9 158.1,511.3 158.5,513.7 158.9,515.9 159.3,518.1 159.7,520.2 160.1,522.2 160.5,524.1 160.9,526.0 161.3,527.8 161.7,529.5 162.1,531.0 162.5,532.3 162.9,533.4 163.3,534.4 163.7,535.2 164.1,536.0 164.5,536.6 164.9,537.1 165.3,537.6 165.7,538.0 166.1,538.4 166.5,538.6 166.9,538.8 167.3,539.0 167.7,539.2 168.1,539.4 168.5,539.5 168.9,539.7 169.3,539.8 169.7,539.9 170.1,540.1 170.5,540.2 170.9,540.3 171.3,540.4 171.7,540.6 172.1,540.7 172.5,540.8 172.9,540.9 173.3,541.0 173.7,541.1 174.1,541.2 174.5,541.3 174.9,541.4 175.3,541.5 175.7,541.6 176.1,541.7 176.5,541.8 176.9,541.9 177.3,542.0 177.7,542.1 178.1,542.2 178.5,542.3 178.9,542.3 179.3,542.4 179.7,542.5 180.1,542.6 180.5,542.6 180.9,542.7 181.3,542.8 181.7,542.8 182.1,542.9 182.5,542.9 182.9,543.0 183.3,543.0 183.7,543.1 184.1,543.1 184.5,543.2 184.9,543.2 185.3,543.3 185.7,543.3 186.1,543.4 186.5,543.4 186.9,543.5 187.3,543.5 187.7,543.6 188.1,543.6 188.5,543.7 188.9,543.8"/>
<polyline fill="none" stroke="#000" stroke-width="1.4" stroke-linejoin="round" stroke-linecap="butt" stroke-dasharray="4.2 4.2" clip-path="url(#c0)" points="41.4,543.3 41.7,543.3 42.1,543.2 42.5,543.2 42.8,543.1 43.2,543.1 43.6,543.0 43.9,542.9 44.3,542.9 44.7,542.8 45.0,542.7 45.4,542.7 45.8,542.6 46.1,542.5 46.5,542.4 46.9,542.3 47.2,542.3 47.6,542.2 48.0,542.1 48.4,542.0 48.7,541.8 49.1,541.7 49.5,541.6 49.8,541.5 50.2,541.3 50.6,541.2 50.9,541.1 51.3,540.9 51.7,540.8 52.0,540.6 52.4,540.4 52.8,540.3 53.1,540.1 53.5,539.9 53.9,539.7 54.3,539.5 54.6,539.3 55.0,539.0 55.4,538.8 55.7,538.5 56.1,538.3 56.5,538.0 56.8,537.8 57.2,537.5 57.6,537.2 57.9,536.9 58.3,536.6 58.7,536.2 59.1,535.9 59.4,535.5 59.8,535.2 60.2,534.8 60.5,534.4 60.9,534.0 61.3,533.6 61.6,533.1 62.0,532.7 62.4,532.2 62.7,531.8 63.1,531.3 63.5,530.7 63.8,530.2 64.2,529.7 64.6,529.1 65.0,528.5 65.3,527.9 65.7,527.3 66.1,526.7 66.4,526.0 66.8,525.4 67.2,524.7 67.5,524.0 67.9,523.2 68.3,522.5 68.6,521.7 69.0,520.9 69.4,520.1 69.7,519.2 70.1,518.4 70.5,517.5 70.8,516.6 71.2,515.7 71.6,514.7 72.0,513.7 72.3,512.7 72.7,511.7 73.1,510.7 73.4,509.6 73.8,508.5 74.2,507.4 74.5,506.3 74.9,505.1 75.3,503.9 75.6,502.7 76.0,501.4 76.4,500.2 76.8,498.9 77.1,497.5 77.5,496.2 77.9,494.8 78.2,493.4 78.6,492.0 79.0,490.6 79.3,489.1 79.7,487.6 80.1,486.1 80.4,484.5 80.8,483.0 81.2,481.4 81.5,479.8 81.9,478.1 82.3,476.5 82.7,474.8 83.0,473.1 83.4,471.4 83.8,469.6 84.1,467.8 84.5,466.0 84.9,464.2 85.2,462.4 85.6,460.6 86.0,458.7 86.3,456.8 86.7,454.9 87.1,453.0 87.4,451.1 87.8,449.1 88.2,447.2 88.6,445.2 88.9,443.2 89.3,441.2 89.7,439.2 90.0,437.2 90.4,435.2 90.8,433.1 91.1,431.1 91.5,429.1 91.9,427.0 92.2,425.0 92.6,422.9 93.0,420.9 93.3,418.8 93.7,416.7 94.1,414.7 94.5,412.7 94.8,410.6 95.2,408.6 95.6,406.5 95.9,404.5 96.3,402.5 96.7,400.5 97.0,398.5 97.4,396.6 97.8,394.6 98.1,392.6 98.5,390.7 98.9,388.8 99.2,386.9 99.6,385.1 100.0,383.2 100.3,381.4 100.7,379.6 101.1,377.8 101.5,376.1 101.8,374.4 102.2,372.7 102.6,371.0 102.9,369.4 103.3,367.8 103.7,366.3 104.0,364.8 104.4,363.3 104.8,361.9 105.1,360.5 105.5,359.1 105.9,357.8 106.2,356.5 106.6,355.3 107.0,354.1 107.4,353.0 107.7,351.9 108.1,350.8 108.5,349.8 108.8,348.9 109.2,348.0 109.6,347.2 109.9,346.4 110.3,345.6 110.7,344.9 111.0,344.3 111.4,343.7 111.8,343.2 112.2,342.7 112.5,342.3 112.9,341.9 113.3,341.6 113.6,341.4 114.0,341.2 114.4,341.0 114.7,340.9 115.1,340.9 115.5,340.9 115.8,341.0 116.2,341.2 116.6,341.4 116.9,341.6 117.3,341.9 117.7,342.3 118.1,342.7 118.4,343.2 118.8,343.7 119.2,344.3 119.5,344.9 119.9,345.6 120.3,346.4 120.6,347.2 121.0,348.0 121.4,348.9 121.7,349.8 122.1,350.8 122.5,351.9 122.8,353.0 123.2,354.1 123.6,355.3 124.0,356.5 124.3,357.8 124.7,359.1 125.1,360.5 125.4,361.9 125.8,363.3 126.2,364.8 126.5,366.3 126.9,367.8 127.3,369.4 127.6,371.0 128.0,372.7 128.4,374.4 128.7,376.1 129.1,377.8 129.5,379.6 129.8,381.4 130.2,383.2 130.6,385.1 131.0,386.9 131.3,388.8 131.7,390.7 132.1,392.6 132.4,394.6 132.8,396.6 133.2,398.5 133.5,400.5 133.9,402.5 134.3,404.5 134.6,406.5 135.0,408.6 135.4,410.6 135.8,412.7 136.1,414.7 136.5,416.7 136.9,418.8 137.2,420.9 137.6,422.9 138.0,425.0 138.3,427.0 138.7,429.1 139.1,431.1 139.4,433.1 139.8,435.2 140.2,437.2 140.5,439.2 140.9,441.2 141.3,443.2 141.7,445.2 142.0,447.2 142.4,449.1 142.8,451.1 143.1,453.0 143.5,454.9 143.9,456.8 144.2,458.7 144.6,460.6 145.0,462.4 145.3,464.2 145.7,466.0 146.1,467.8 146.4,469.6 146.8,471.4 147.2,473.1 147.6,474.8 147.9,476.5 148.3,478.1 148.7,479.8 149.0,481.4 149.4,483.0 149.8,484.5 150.1,486.1 150.5,487.6 150.9,489.1 151.2,490.6 151.6,492.0 152.0,493.4 152.3,494.8 152.7,496.2 153.1,497.5 153.5,498.9 153.8,500.2 154.2,501.4 154.6,502.7 154.9,503.9 155.3,505.1 155.7,506.3 156.0,507.4 156.4,508.5 156.8,509.6 157.1,510.7 157.5,511.7 157.9,512.7 158.2,513.7 158.6,514.7 159.0,515.7 159.3,516.6 159.7,517.5 160.1,518.4 160.5,519.2 160.8,520.1 161.2,520.9 161.6,521.7 161.9,522.5 162.3,523.2 162.7,524.0 163.0,524.7 163.4,525.4 163.8,526.0 164.1,526.7 164.5,527.3 164.9,527.9 165.2,528.5 165.6,529.1 166.0,529.7 166.4,530.2 166.7,530.7 167.1,531.3 167.5,531.8 167.8,532.2 168.2,532.7 168.6,533.1 168.9,533.6 169.3,534.0 169.7,534.4 170.0,534.8 170.4,535.2 170.8,535.5 171.2,535.9 171.5,536.2 171.9,536.6 172.3,536.9 172.6,537.2 173.0,537.5 173.4,537.8 173.7,538.0 174.1,538.3 174.5,538.5 174.8,538.8 175.2,539.0 175.6,539.3 175.9,539.5 176.3,539.7 176.7,539.9 177.1,540.1 177.4,540.3 177.8,540.4 178.2,540.6 178.5,540.8 178.9,540.9 179.3,541.1 179.6,541.2 180.0,541.3 180.4,541.5 180.7,541.6 181.1,541.7 181.5,541.8 181.8,542.0 182.2,542.1 182.6,542.2 183.0,542.3 183.3,542.3 183.7,542.4 184.1,542.5 184.4,542.6 184.8,542.7 185.2,542.7 185.5,542.8 185.9,542.9 186.3,542.9 186.6,543.0 187.0,543.1 187.4,543.1 187.7,543.2 188.1,543.2 188.5,543.3 188.8,543.3"/>
<polyline fill="none" stroke="#000" stroke-width="1.4" stroke-linejoin="round" stroke-linecap="butt" clip-path="url(#c1)" points="257.7,544.0 258.1,544.0 258.5,543.9 258.9,543.8 259.3,543.7 259.7,543.6 260.1,543.5 260.5,543.3 260.9,543.1 261.3,542.9 261.7,542.6 262.1,542.3 262.5,541.9 262.9,541.5 263.3,540.9 263.7,540.3 264.1,539.6 264.5,538.8 264.9,537.7 265.3,536.5 265.7,535.1 266.1,533.6 266.5,531.9 266.9,530.0 267.3,527.9 267.7,525.8 268.1,523.5 268.5,521.2 268.9,518.8 269.3,516.3 269.7,513.9 270.1,511.4 270.5,509.0 270.9,506.4 271.3,503.8 271.7,501.0 272.1,497.9 272.5,494.9 272.9,491.8 273.3,488.9 273.7,486.1 274.1,483.3 274.5,480.5 274.9,477.7 275.3,475.0 275.7,472.2 276.1,469.3 276.5,466.2 276.9,463.0 277.3,459.8 277.7,456.4 278.1,452.9 278.5,449.3 278.9,445.6 279.3,441.9 279.7,437.8 280.1,433.4 280.5,428.3 280.9,422.7 281.3,416.7 281.7,410.4 282.1,403.7 282.5,396.8 282.9,389.7 283.3,383.0 283.7,376.6 284.1,370.3 284.5,364.1 284.9,358.1 285.3,352.4 285.7,347.0 286.1,341.9 286.5,337.3 286.9,332.7 287.3,328.5 287.7,324.9 288.1,322.1 288.5,319.6 288.9,317.6 289.3,316.5 289.7,315.7 290.1,315.1 290.5,315.0 290.9,315.3 291.3,316.0 291.7,316.8 292.1,317.9 292.5,319.9 292.9,322.2 293.3,324.7 293.7,327.6 294.1,330.8 294.5,334.2 294.9,337.8 295.3,341.6 295.7,345.7 296.1,349.8 296.5,353.9 296.9,358.1 297.3,362.3 297.7,366.5 298.1,370.5 298.5,374.4 298.9,378.3 299.3,381.9 299.7,385.2 300.1,388.3 300.5,391.1 300.9,393.9 301.3,396.8 301.7,400.0 302.1,403.5 302.5,407.3 302.9,411.2 303.3,414.9 303.7,418.4 304.1,421.8 304.5,425.0 304.9,428.1 305.3,430.7 305.7,433.1 306.1,435.3 306.5,437.3 306.9,439.3 307.3,441.3 307.7,443.5 308.1,445.8 308.5,448.2 308.9,450.6 309.3,453.0 309.7,455.5 310.1,457.9 310.5,460.3 310.9,462.7 311.3,465.1 311.7,467.5 312.1,469.9 312.5,472.4 312.9,474.9 313.3,477.5 313.7,480.2 314.1,482.7 314.5,485.1 314.9,487.2 315.3,489.3 315.7,491.3 316.1,493.1 316.5,494.8 316.9,496.5 317.3,498.1 317.7,499.7 318.1,501.1 318.5,502.3 318.9,503.2 319.3,504.0 319.7,504.7 320.1,505.4 320.5,506.0 320.9,506.4 321.3,506.6 321.7,506.6 322.1,506.6 322.5,506.5 322.9,506.4 323.3,506.3 323.7,506.3 324.1,506.1 324.5,505.9 324.9,505.5 325.3,505.1 325.7,504.8 326.1,504.6 326.5,504.6 326.9,504.8 327.3,505.1 327.7,505.4 328.1,505.9 328.5,506.4 328.9,506.9 329.3,507.5 329.7,508.3 330.1,509.2 330.5,510.1 330.9,511.1 331.3,512.0 331.7,513.0 332.1,513.9 332.5,515.0 332.9,516.0 333.3,517.1 333.7,518.1 334.1,519.2 334.5,520.2 334.9,521.3 335.3,522.2 335.7,523.2 336.1,524.2 336.5,525.2 336.9,526.2 337.3,527.1 337.7,528.0 338.1,528.9 338.5,529.7 338.9,530.5 339.3,531.2 339.7,532.0 340.1,532.7 340.5,533.4 340.9,534.1 341.3,534.7 341.7,535.3 342.1,535.8 342.5,536.2 342.9,536.5 343.3,536.7 343.7,537.0 344.1,537.2 344.5,537.4 344.9,537.6 345.3,537.8 345.7,537.9 346.1,538.0 346.5,538.0 346.9,538.0 347.3,538.0 347.7,538.0 348.1,537.9 348.5,537.9 348.9,537.9 349.3,537.8 349.7,537.8 350.1,537.8 350.5,537.7 350.9,537.7 351.3,537.6 351.7,537.6 352.1,537.5 352.5,537.5 352.9,537.4 353.3,537.3 353.7,537.3 354.1,537.2 354.5,537.1 354.9,537.0 355.3,536.9 355.7,536.8 356.1,536.6 356.5,536.5 356.9,536.3 357.3,536.1 357.7,535.9 358.1,535.6 358.5,535.3 358.9,534.9 359.3,534.6 359.7,534.2 360.1,533.9 360.5,533.5 360.9,533.2 361.3,532.8 361.7,532.3 362.1,531.9 362.5,531.5 362.9,531.1 363.3,530.7 363.7,530.3 364.1,529.9 364.5,529.6 364.9,529.2 365.3,528.8 365.7,528.5 366.1,528.2 366.5,527.9 366.9,527.7 367.3,527.5 367.7,527.4 368.1,527.3 368.5,527.2 368.9,527.1 369.3,527.0 369.7,527.0 370.1,527.0 370.5,527.1 370.9,527.3 371.3,527.6 371.7,527.8 372.1,528.1 372.5,528.5 372.9,529.0 373.3,529.6 373.7,530.3 374.1,531.1 374.5,531.9 374.9,532.6 375.3,533.3 375.7,533.9 376.1,534.6 376.5,535.3 376.9,535.9 377.3,536.5 377.7,537.1 378.1,537.7 378.5,538.2 378.9,538.7 379.3,539.1 379.7,539.5 380.1,539.9 380.5,540.2 380.9,540.6 381.3,540.9 381.7,541.2 382.1,541.4 382.5,541.6 382.9,541.8 383.3,542.0 383.7,542.2 384.1,542.4 384.5,542.5 384.9,542.6 385.3,542.8 385.7,542.9 386.1,543.0 386.5,543.1 386.9,543.2 387.3,543.2 387.7,543.3 388.1,543.4 388.5,543.4 388.9,543.5 389.3,543.5 389.7,543.6 390.1,543.6 390.5,543.7 390.9,543.7 391.3,543.8 391.7,543.8 392.1,543.9 392.5,543.9 392.9,544.0"/>
<polyline fill="none" stroke="#000" stroke-width="1.4" stroke-linejoin="round" stroke-linecap="butt" stroke-dasharray="4.2 4.2" clip-path="url(#c1)" points="267.6,542.8 267.7,542.7 267.9,542.6 268.0,542.5 268.2,542.4 268.3,542.3 268.4,542.3 268.6,542.2 268.7,542.0 268.9,541.9 269.0,541.8 269.2,541.7 269.3,541.6 269.4,541.4 269.6,541.3 269.7,541.1 269.9,541.0 270.0,540.8 270.1,540.6 270.3,540.5 270.4,540.3 270.6,540.1 270.7,539.9 270.8,539.7 271.0,539.4 271.1,539.2 271.3,539.0 271.4,538.7 271.5,538.4 271.7,538.2 271.8,537.9 272.0,537.6 272.1,537.3 272.3,536.9 272.4,536.6 272.5,536.3 272.7,535.9 272.8,535.5 273.0,535.1 273.1,534.7 273.2,534.3 273.4,533.8 273.5,533.4 273.7,532.9 273.8,532.4 273.9,531.9 274.1,531.3 274.2,530.8 274.4,530.2 274.5,529.6 274.7,529.0 274.8,528.3 274.9,527.7 275.1,527.0 275.2,526.3 275.4,525.5 275.5,524.8 275.6,524.0 275.8,523.2 275.9,522.3 276.1,521.5 276.2,520.6 276.3,519.7 276.5,518.7 276.6,517.7 276.8,516.7 276.9,515.7 277.0,514.6 277.2,513.5 277.3,512.4 277.5,511.2 277.6,510.0 277.8,508.7 277.9,507.5 278.0,506.2 278.2,504.8 278.3,503.4 278.5,502.0 278.6,500.6 278.7,499.1 278.9,497.5 279.0,496.0 279.2,494.3 279.3,492.7 279.4,491.0 279.6,489.3 279.7,487.5 279.9,485.7 280.0,483.8 280.1,481.9 280.3,480.0 280.4,478.0 280.6,476.0 280.7,473.9 280.9,471.8 281.0,469.7 281.1,467.5 281.3,465.2 281.4,463.0 281.6,460.6 281.7,458.3 281.8,455.9 282.0,453.4 282.1,450.9 282.3,448.4 282.4,445.8 282.5,443.2 282.7,440.6 282.8,437.9 283.0,435.1 283.1,432.4 283.3,429.6 283.4,426.7 283.5,423.8 283.7,420.9 283.8,417.9 284.0,414.9 284.1,411.9 284.2,408.8 284.4,405.7 284.5,402.6 284.7,399.5 284.8,396.3 284.9,393.0 285.1,389.8 285.2,386.5 285.4,383.2 285.5,379.9 285.6,376.6 285.8,373.2 285.9,369.8 286.1,366.4 286.2,363.0 286.4,359.6 286.5,356.2 286.6,352.7 286.8,349.3 286.9,345.8 287.1,342.3 287.2,338.8 287.3,335.4 287.5,331.9 287.6,328.4 287.8,324.9 287.9,321.5 288.0,318.0 288.2,314.6 288.3,311.1 288.5,307.7 288.6,304.3 288.8,300.9 288.9,297.5 289.0,294.2 289.2,290.9 289.3,287.6 289.5,284.3 289.6,281.1 289.7,277.9 289.9,274.7 290.0,271.6 290.2,268.5 290.3,265.5 290.4,262.5 290.6,259.5 290.7,256.6 290.9,253.8 291.0,251.0 291.1,248.3 291.3,245.6 291.4,242.9 291.6,240.4 291.7,237.9 291.9,235.5 292.0,233.1 292.1,230.8 292.3,228.6 292.4,226.4 292.6,224.3 292.7,222.3 292.8,220.4 293.0,218.5 293.1,216.8 293.3,215.1 293.4,213.5 293.5,212.0 293.7,210.5 293.8,209.2 294.0,207.9 294.1,206.8 294.2,205.7 294.4,204.7 294.5,203.8 294.7,203.0 294.8,202.3 295.0,201.7 295.1,201.1 295.2,200.7 295.4,200.4 295.5,200.1 295.7,200.0 295.8,199.9 295.9,200.0 296.1,200.1 296.2,200.4 296.4,200.7 296.5,201.1 296.6,201.7 296.8,202.3 296.9,203.0 297.1,203.8 297.2,204.7 297.4,205.7 297.5,206.8 297.6,207.9 297.8,209.2 297.9,210.5 298.1,212.0 298.2,213.5 298.3,215.1 298.5,216.8 298.6,218.5 298.8,220.4 298.9,222.3 299.0,224.3 299.2,226.4 299.3,228.6 299.5,230.8 299.6,233.1 299.7,235.5 299.9,237.9 300.0,240.4 300.2,242.9 300.3,245.6 300.5,248.3 300.6,251.0 300.7,253.8 300.9,256.6 301.0,259.5 301.2,262.5 301.3,265.5 301.4,268.5 301.6,271.6 301.7,274.7 301.9,277.9 302.0,281.1 302.1,284.3 302.3,287.6 302.4,290.9 302.6,294.2 302.7,297.5 302.9,300.9 303.0,304.3 303.1,307.7 303.3,311.1 303.4,314.6 303.6,318.0 303.7,321.5 303.8,324.9 304.0,328.4 304.1,331.9 304.3,335.4 304.4,338.8 304.5,342.3 304.7,345.8 304.8,349.3 305.0,352.7 305.1,356.2 305.2,359.6 305.4,363.0 305.5,366.4 305.7,369.8 305.8,373.2 306.0,376.6 306.1,379.9 306.2,383.2 306.4,386.5 306.5,389.8 306.7,393.0 306.8,396.3 306.9,399.5 307.1,402.6 307.2,405.7 307.4,408.8 307.5,411.9 307.6,414.9 307.8,417.9 307.9,420.9 308.1,423.8 308.2,426.7 308.3,429.6 308.5,432.4 308.6,435.1 308.8,437.9 308.9,440.6 309.1,443.2 309.2,445.8 309.3,448.4 309.5,450.9 309.6,453.4 309.8,455.9 309.9,458.3 310.0,460.6 310.2,463.0 310.3,465.2 310.5,467.5 310.6,469.7 310.7,471.8 310.9,473.9 311.0,476.0 311.2,478.0 311.3,480.0 311.5,481.9 311.6,483.8 311.7,485.7 311.9,487.5 312.0,489.3 312.2,491.0 312.3,492.7 312.4,494.3 312.6,496.0 312.7,497.5 312.9,499.1 313.0,500.6 313.1,502.0 313.3,503.4 313.4,504.8 313.6,506.2 313.7,507.5 313.8,508.7 314.0,510.0 314.1,511.2 314.3,512.4 314.4,513.5 314.6,514.6 314.7,515.7 314.8,516.7 315.0,517.7 315.1,518.7 315.3,519.7 315.4,520.6 315.5,521.5 315.7,522.3 315.8,523.2 316.0,524.0 316.1,524.8 316.2,525.5 316.4,526.3 316.5,527.0 316.7,527.7 316.8,528.3 317.0,529.0 317.1,529.6 317.2,530.2 317.4,530.8 317.5,531.3 317.7,531.9 317.8,532.4 317.9,532.9 318.1,533.4 318.2,533.8 318.4,534.3 318.5,534.7 318.6,535.1 318.8,535.5 318.9,535.9 319.1,536.3 319.2,536.6 319.3,536.9 319.5,537.3 319.6,537.6 319.8,537.9 319.9,538.2 320.1,538.4 320.2,538.7 320.3,539.0 320.5,539.2 320.6,539.4 320.8,539.7 320.9,539.9 321.0,540.1 321.2,540.3 321.3,540.5 321.5,540.6 321.6,540.8 321.7,541.0 321.9,541.1 322.0,541.3 322.2,541.4 322.3,541.6 322.4,541.7 322.6,541.8 322.7,541.9 322.9,542.0 323.0,542.2 323.2,542.3 323.3,542.3 323.4,542.4 323.6,542.5 323.7,542.6 323.9,542.7 324.0,542.8"/>
<polyline fill="none" stroke="#000" stroke-width="1.4" stroke-linejoin="round" stroke-linecap="butt" clip-path="url(#c2)" points="456.4,544.0 456.8,544.0 457.2,543.9 457.6,543.9 458.0,543.8 458.4,543.7 458.8,543.6 459.2,543.6 459.6,543.5 460.0,543.3 460.4,543.2 460.8,543.0 461.2,542.9 461.6,542.7 462.0,542.5 462.4,542.3 462.8,542.0 463.2,541.7 463.6,541.3 464.0,540.8 464.4,540.3 464.8,539.8 465.2,539.2 465.6,538.6 466.0,537.8 466.4,537.0 466.8,536.0 467.2,535.0 467.6,533.8 468.0,532.5 468.4,531.0 468.8,529.4 469.2,527.6 469.6,525.6 470.0,523.2 470.4,520.7 470.8,518.1 471.2,515.4 471.6,512.6 472.0,509.8 472.4,506.9 472.8,504.1 473.2,501.2 473.6,498.0 474.0,494.3 474.4,490.2 474.8,486.0 475.2,481.8 475.6,477.6 476.0,473.5 476.4,469.7 476.8,465.3 477.2,459.6 477.6,453.4 478.0,446.9 478.4,440.1 478.8,433.4 479.2,427.3 479.6,421.3 480.0,415.1 480.4,408.6 480.8,402.0 481.2,395.3 481.6,388.6 482.0,381.8 482.4,375.1 482.8,368.7 483.2,362.4 483.6,356.6 484.0,351.3 484.4,346.4 484.8,341.7 485.2,337.3 485.6,332.8 486.0,328.6 486.4,325.1 486.8,322.2 487.2,319.7 487.6,317.7 488.0,316.5 488.4,315.6 488.8,315.0 489.2,314.7 489.6,314.9 490.0,315.7 490.4,316.8 490.8,318.4 491.2,321.2 491.6,324.8 492.0,328.7 492.4,333.3 492.8,338.2 493.2,342.9 493.6,347.4 494.0,351.8 494.4,356.2 494.8,360.8 495.2,365.5 495.6,370.2 496.0,374.7 496.4,379.0 496.8,383.2 497.2,387.5 497.6,391.8 498.0,396.1 498.4,400.7 498.8,406.1 499.2,412.2 499.6,418.1 500.0,423.9 500.4,429.5 500.8,434.6 501.2,439.4 501.6,443.7 502.0,447.6 502.4,451.0 502.8,454.0 503.2,456.7 503.6,459.1 504.0,461.3 504.4,463.3 504.8,465.1 505.2,466.7 505.6,468.0 506.0,469.1 506.4,470.1 506.8,471.0 507.2,471.6 507.6,472.1 508.0,472.6 508.4,473.0 508.8,473.2 509.2,473.2 509.6,473.0 510.0,472.8 510.4,472.5 510.8,472.1 511.2,471.7 511.6,471.2 512.0,470.5 512.4,469.8 512.8,469.1 513.2,468.3 513.6,467.5 514.0,466.7 514.4,465.8 514.8,464.9 515.2,464.0 515.6,463.1 516.0,462.1 516.4,461.2 516.8,460.4 517.2,459.6 517.6,458.7 518.0,457.9 518.4,457.1 518.8,456.3 519.2,455.6 519.6,454.9 520.0,454.4 520.4,454.0 520.8,453.6 521.2,453.3 521.6,453.0 522.0,452.7 522.4,452.5 522.8,452.3 523.2,452.3 523.6,452.3 524.0,452.4 524.4,452.5 524.8,452.6 525.2,452.8 525.6,453.0 526.0,453.3 526.4,453.7 526.8,454.3 527.2,454.9 527.6,455.5 528.0,456.2 528.4,456.9 528.8,457.6 529.2,458.4 529.6,459.2 530.0,460.0 530.4,460.9 530.8,461.8 531.2,462.6 531.6,463.5 532.0,464.4 532.4,465.3 532.8,466.3 533.2,467.2 533.6,468.1 534.0,469.1 534.4,470.0 534.8,470.9 535.2,471.8 535.6,472.7 536.0,473.5 536.4,474.4 536.8,475.2 537.2,476.0 537.6,476.8 538.0,477.6 538.4,478.3 538.8,479.1 539.2,479.7 539.6,480.4 540.0,481.0 540.4,481.7 540.8,482.3 541.2,482.8 541.6,483.4 542.0,483.9 542.4,484.4 542.8,484.9 543.2,485.4 543.6,485.8 544.0,486.2 544.4,486.7 544.8,487.1 545.2,487.4 545.6,487.8 546.0,488.1 546.4,488.4 546.8,488.7 547.2,489.0 547.6,489.3 548.0,489.5 548.4,489.7 548.8,490.0 549.2,490.2 549.6,490.4 550.0,490.6 550.4,490.7 550.8,490.9 551.2,491.1 551.6,491.3 552.0,491.5 552.4,491.6 552.8,491.8 553.2,491.8 553.6,491.9 554.0,491.9 554.4,491.9 554.8,491.9 555.2,491.8 555.6,491.8 556.0,491.7 556.4,491.6 556.8,491.6 557.2,491.5 557.6,491.4 558.0,491.3 558.4,491.1 558.8,491.0 559.2,490.8 559.6,490.6 560.0,490.4 560.4,490.3 560.8,490.2 561.2,490.1 561.6,490.1 562.0,490.2 562.4,490.3 562.8,490.4 563.2,490.5 563.6,490.7 564.0,490.9 564.4,491.1 564.8,491.4 565.2,491.8 565.6,492.3 566.0,492.9 566.4,493.5 566.8,494.2 567.2,495.0 567.6,495.8 568.0,496.8 568.4,497.8 568.8,499.0 569.2,500.1 569.6,501.3 570.0,502.6 570.4,504.0 570.8,505.4 571.2,506.9 571.6,508.4 572.0,509.9 572.4,511.4 572.8,513.1 573.2,514.7 573.6,516.4 574.0,518.0 574.4,519.5 574.8,521.0 575.2,522.5 575.6,524.0 576.0,525.4 576.4,526.8 576.8,528.0 577.2,529.2 577.6,530.3 578.0,531.3 578.4,532.3 578.8,533.3 579.2,534.1 579.6,534.9 580.0,535.6 580.4,536.3 580.8,537.0 581.2,537.6 581.6,538.2 582.0,538.7 582.4,539.2 582.8,539.6 583.2,540.0 583.6,540.4 584.0,540.7 584.4,541.1 584.8,541.4 585.2,541.7 585.6,541.9 586.0,542.1 586.4,542.3 586.8,542.5 587.2,542.6 587.6,542.7 588.0,542.9 588.4,543.0 588.8,543.1 589.2,543.2 589.6,543.3 590.0,543.4 590.4,543.4 590.8,543.5 591.2,543.6 591.6,543.6 592.0,543.7 592.4,543.7 592.8,543.8 593.2,543.8 593.6,543.9 594.0,543.9"/>
<polyline fill="none" stroke="#000" stroke-width="1.4" stroke-linejoin="round" stroke-linecap="butt" stroke-dasharray="4.2 4.2" clip-path="url(#c2)" points="479.0,537.9 479.0,537.5 479.1,537.2 479.1,536.8 479.2,536.3 479.2,535.9 479.2,535.5 479.3,535.0 479.3,534.5 479.4,534.0 479.4,533.4 479.4,532.8 479.5,532.2 479.5,531.6 479.6,530.9 479.6,530.2 479.6,529.5 479.7,528.7 479.7,527.9 479.8,527.1 479.8,526.2 479.8,525.3 479.9,524.4 479.9,523.4 480.0,522.3 480.0,521.2 480.0,520.1 480.1,518.9 480.1,517.7 480.2,516.4 480.2,515.0 480.2,513.6 480.3,512.2 480.3,510.7 480.4,509.1 480.4,507.4 480.4,505.7 480.5,503.9 480.5,502.1 480.5,500.1 480.6,498.1 480.6,496.1 480.7,493.9 480.7,491.6 480.7,489.3 480.8,486.9 480.8,484.4 480.9,481.8 480.9,479.1 480.9,476.3 481.0,473.4 481.0,470.4 481.1,467.3 481.1,464.1 481.1,460.8 481.2,457.3 481.2,453.8 481.3,450.1 481.3,446.3 481.3,442.4 481.4,438.3 481.4,434.2 481.5,429.8 481.5,425.4 481.5,420.8 481.6,416.1 481.6,411.2 481.7,406.2 481.7,401.0 481.7,395.7 481.8,390.2 481.8,384.6 481.9,378.8 481.9,372.8 481.9,366.7 482.0,360.4 482.0,353.9 482.1,347.3 482.1,340.5 482.1,333.5 482.2,326.3 482.2,319.0 482.2,311.5 482.3,303.7 482.3,295.8 482.4,287.7 482.4,279.4 482.4,271.0 482.5,262.3 482.5,253.4 482.6,244.4 482.6,235.1 482.6,225.7 482.7,216.0 482.7,206.2 482.8,196.1 482.8,185.9 482.8,175.4 482.9,164.8 482.9,153.9 483.0,142.9 483.0,131.6 483.0,120.2 483.1,108.6 483.1,96.7 483.2,84.7 483.2,72.5 483.2,60.1 483.3,47.5 483.3,34.7 483.4,21.7 483.4,8.6 483.4,-4.8 483.5,-18.3 483.5,-31.9 483.6,-45.8 483.6,-59.8 483.6,-74.0 483.7,-88.3 483.7,-102.8 483.8,-117.4 483.8,-132.2 483.8,-147.1 483.9,-162.1 483.9,-177.3 483.9,-192.6 484.0,-208.0 484.0,-223.5 484.1,-239.1 484.1,-254.8 484.1,-270.6 484.2,-286.5 484.2,-302.5 484.3,-318.5 484.3,-334.6 484.3,-350.7 484.4,-366.9 484.4,-383.1 484.5,-399.3 484.5,-415.6 484.5,-431.8 484.6,-448.1 484.6,-464.4 484.7,-480.6 484.7,-496.8 484.7,-513.0 484.8,-529.1 484.8,-545.2 484.9,-561.2 484.9,-577.1 484.9,-592.9 485.0,-608.7 485.0,-624.3 485.1,-639.8 485.1,-655.2 485.1,-670.5 485.2,-685.6 485.2,-700.5 485.3,-715.3 485.3,-729.9 485.3,-744.3 485.4,-758.6 485.4,-772.6 485.5,-786.3 485.5,-799.9 485.5,-813.2 485.6,-826.3 485.6,-839.1 485.6,-851.7 485.7,-863.9 485.7,-875.9 485.8,-887.6 485.8,-899.0 485.8,-910.0 485.9,-920.8 485.9,-931.2 486.0,-941.3 486.0,-951.0 486.0,-960.4 486.1,-969.4 486.1,-978.0 486.2,-986.3 486.2,-994.2 486.2,-1001.7 486.3,-1008.8 486.3,-1015.5 486.4,-1021.8 486.4,-1027.6 486.4,-1033.1 486.5,-1038.2 486.5,-1042.8 486.6,-1047.0 486.6,-1050.7 486.6,-1054.1 486.7,-1056.9 486.7,-1059.4 486.8,-1061.4 486.8,-1063.0 486.8,-1064.1 486.9,-1064.7 486.9,-1065.0 487.0,-1064.7 487.0,-1064.1 487.0,-1063.0 487.1,-1061.4 487.1,-1059.4 487.2,-1056.9 487.2,-1054.1 487.2,-1050.7 487.3,-1047.0 487.3,-1042.8 487.3,-1038.2 487.4,-1033.1 487.4,-1027.6 487.5,-1021.8 487.5,-1015.5 487.5,-1008.8 487.6,-1001.7 487.6,-994.2 487.7,-986.3 487.7,-978.0 487.7,-969.4 487.8,-960.4 487.8,-951.0 487.9,-941.3 487.9,-931.2 487.9,-920.8 488.0,-910.0 488.0,-899.0 488.1,-887.6 488.1,-875.9 488.1,-863.9 488.2,-851.7 488.2,-839.1 488.3,-826.3 488.3,-813.2 488.3,-799.9 488.4,-786.3 488.4,-772.6 488.5,-758.6 488.5,-744.3 488.5,-729.9 488.6,-715.3 488.6,-700.5 488.7,-685.6 488.7,-670.5 488.7,-655.2 488.8,-639.8 488.8,-624.3 488.9,-608.7 488.9,-592.9 488.9,-577.1 489.0,-561.2 489.0,-545.2 489.1,-529.1 489.1,-513.0 489.1,-496.8 489.2,-480.6 489.2,-464.4 489.2,-448.1 489.3,-431.8 489.3,-415.6 489.4,-399.3 489.4,-383.1 489.4,-366.9 489.5,-350.7 489.5,-334.6 489.6,-318.5 489.6,-302.5 489.6,-286.5 489.7,-270.6 489.7,-254.8 489.8,-239.1 489.8,-223.5 489.8,-208.0 489.9,-192.6 489.9,-177.3 490.0,-162.1 490.0,-147.1 490.0,-132.2 490.1,-117.4 490.1,-102.8 490.2,-88.3 490.2,-74.0 490.2,-59.8 490.3,-45.8 490.3,-31.9 490.4,-18.3 490.4,-4.8 490.4,8.6 490.5,21.7 490.5,34.7 490.6,47.5 490.6,60.1 490.6,72.5 490.7,84.7 490.7,96.7 490.8,108.6 490.8,120.2 490.8,131.6 490.9,142.9 490.9,153.9 490.9,164.8 491.0,175.4 491.0,185.9 491.1,196.1 491.1,206.2 491.1,216.0 491.2,225.7 491.2,235.1 491.3,244.4 491.3,253.4 491.3,262.3 491.4,271.0 491.4,279.4 491.5,287.7 491.5,295.8 491.5,303.7 491.6,311.5 491.6,319.0 491.7,326.3 491.7,333.5 491.7,340.5 491.8,347.3 491.8,353.9 491.9,360.4 491.9,366.7 491.9,372.8 492.0,378.8 492.0,384.6 492.1,390.2 492.1,395.7 492.1,401.0 492.2,406.2 492.2,411.2 492.3,416.1 492.3,420.8 492.3,425.4 492.4,429.8 492.4,434.2 492.5,438.3 492.5,442.4 492.5,446.3 492.6,450.1 492.6,453.8 492.6,457.3 492.7,460.8 492.7,464.1 492.8,467.3 492.8,470.4 492.8,473.4 492.9,476.3 492.9,479.1 493.0,481.8 493.0,484.4 493.0,486.9 493.1,489.3 493.1,491.6 493.2,493.9 493.2,496.1 493.2,498.1 493.3,500.1 493.3,502.1 493.4,503.9 493.4,505.7 493.4,507.4 493.5,509.1 493.5,510.7 493.6,512.2 493.6,513.6 493.6,515.0 493.7,516.4 493.7,517.7 493.8,518.9 493.8,520.1 493.8,521.2 493.9,522.3 493.9,523.4 494.0,524.4 494.0,525.3 494.0,526.2 494.1,527.1 494.1,527.9 494.2,528.7 494.2,529.5 494.2,530.2 494.3,530.9 494.3,531.6 494.3,532.2 494.4,532.8 494.4,533.4 494.5,534.0 494.5,534.5 494.5,535.0 494.6,535.5 494.6,535.9 494.7,536.3 494.7,536.8 494.7,537.2 494.8,537.5 494.8,537.9"/>
<line x1="55.40" y1="553.10" x2="174.80" y2="553.10" stroke="#000" stroke-width="1.4"/>
<line x1="56.10" y1="553.10" x2="56.10" y2="559.10" stroke="#000" stroke-width="1.4"/>
<line x1="85.60" y1="553.10" x2="85.60" y2="559.10" stroke="#000" stroke-width="1.4"/>
<line x1="115.10" y1="553.10" x2="115.10" y2="559.10" stroke="#000" stroke-width="1.4"/>
<line x1="144.60" y1="553.10" x2="144.60" y2="559.10" stroke="#000" stroke-width="1.4"/>
<line x1="174.10" y1="553.10" x2="174.10" y2="559.10" stroke="#000" stroke-width="1.4"/>
<text x="56.10" y="574.10" text-anchor="middle" font-size="12">60</text>
<text x="85.60" y="574.10" text-anchor="middle" font-size="12">80</text>
<text x="115.10" y="574.10" text-anchor="middle" font-size="12">100</text>
<text x="174.10" y="574.10" text-anchor="middle" font-size="12">140</text>
<line x1="266.90" y1="553.10" x2="381.10" y2="553.10" stroke="#000" stroke-width="1.4"/>
<line x1="267.60" y1="553.10" x2="267.60" y2="559.10" stroke="#000" stroke-width="1.4"/>
<line x1="295.80" y1="553.10" x2="295.80" y2="559.10" stroke="#000" stroke-width="1.4"/>
<line x1="324.00" y1="553.10" x2="324.00" y2="559.10" stroke="#000" stroke-width="1.4"/>
<line x1="352.20" y1="553.10" x2="352.20" y2="559.10" stroke="#000" stroke-width="1.4"/>
<line x1="380.40" y1="553.10" x2="380.40" y2="559.10" stroke="#000" stroke-width="1.4"/>
<text x="267.60" y="574.10" text-anchor="middle" font-size="12">50</text>
<text x="295.80" y="574.10" text-anchor="middle" font-size="12">100</text>
<text x="352.20" y="574.10" text-anchor="middle" font-size="12">200</text>
<line x1="470.40" y1="553.10" x2="598.32" y2="553.10" stroke="#000" stroke-width="1.4"/>
<line x1="471.10" y1="553.10" x2="471.10" y2="559.10" stroke="#000" stroke-width="1.4"/>
<line x1="502.73" y1="553.10" x2="502.73" y2="559.10" stroke="#000" stroke-width="1.4"/>
<line x1="534.36" y1="553.10" x2="534.36" y2="559.10" stroke="#000" stroke-width="1.4"/>
<line x1="565.99" y1="553.10" x2="565.99" y2="559.10" stroke="#000" stroke-width="1.4"/>
<line x1="597.62" y1="553.10" x2="597.62" y2="559.10" stroke="#000" stroke-width="1.4"/>
<text x="471.10" y="574.10" text-anchor="middle" font-size="12">0</text>
<text x="502.73" y="574.10" text-anchor="middle" font-size="12">200</text>
<text x="534.36" y="574.10" text-anchor="middle" font-size="12">400</text>
<text x="565.99" y="574.10" text-anchor="middle" font-size="12">600</text>
<text x="597.62" y="574.10" text-anchor="middle" font-size="12">800</text>
<text x="121.70" y="595.00" text-anchor="middle" font-size="14.4">Sampled Values</text>
<text x="324.85" y="595.00" text-anchor="middle" font-size="14.4">Sampled Values</text>
<text x="528.00" y="595.00" text-anchor="middle" font-size="14.4">Sampled Values</text>
<line x1="48.90" y1="314.20" x2="48.90" y2="544.80" stroke="#000" stroke-width="1.4"/>
<line x1="42.60" y1="544.10" x2="48.90" y2="544.10" stroke="#000" stroke-width="1.4"/>
<line x1="42.60" y1="505.90" x2="48.90" y2="505.90" stroke="#000" stroke-width="1.4"/>
<line x1="42.60" y1="467.70" x2="48.90" y2="467.70" stroke="#000" stroke-width="1.4"/>
<line x1="42.60" y1="429.50" x2="48.90" y2="429.50" stroke="#000" stroke-width="1.4"/>
<line x1="42.60" y1="391.30" x2="48.90" y2="391.30" stroke="#000" stroke-width="1.4"/>
<line x1="42.60" y1="353.10" x2="48.90" y2="353.10" stroke="#000" stroke-width="1.4"/>
<line x1="42.60" y1="314.90" x2="48.90" y2="314.90" stroke="#000" stroke-width="1.4"/>
<text transform="translate(35.30,544.10) rotate(-90)" text-anchor="middle" font-size="12">0.000</text>
<text transform="translate(35.30,467.70) rotate(-90)" text-anchor="middle" font-size="12">0.010</text>
<text transform="translate(35.30,391.30) rotate(-90)" text-anchor="middle" font-size="12">0.020</text>
<text transform="translate(35.30,314.90) rotate(-90)" text-anchor="middle" font-size="12">0.030</text>
<line x1="252.20" y1="349.00" x2="252.20" y2="544.80" stroke="#000" stroke-width="1.4"/>
<line x1="245.90" y1="544.10" x2="252.20" y2="544.10" stroke="#000" stroke-width="1.4"/>
<line x1="245.90" y1="479.30" x2="252.20" y2="479.30" stroke="#000" stroke-width="1.4"/>
<line x1="245.90" y1="414.50" x2="252.20" y2="414.50" stroke="#000" stroke-width="1.4"/>
<line x1="245.90" y1="349.70" x2="252.20" y2="349.70" stroke="#000" stroke-width="1.4"/>
<text transform="translate(238.60,544.10) rotate(-90)" text-anchor="middle" font-size="12">0.000</text>
<text transform="translate(238.60,479.30) rotate(-90)" text-anchor="middle" font-size="12">0.005</text>
<text transform="translate(238.60,414.50) rotate(-90)" text-anchor="middle" font-size="12">0.010</text>
<text transform="translate(238.60,349.70) rotate(-90)" text-anchor="middle" font-size="12">0.015</text>
<line x1="455.40" y1="362.20" x2="455.40" y2="544.80" stroke="#000" stroke-width="1.4"/>
<line x1="449.10" y1="544.10" x2="455.40" y2="544.10" stroke="#000" stroke-width="1.4"/>
<line x1="449.10" y1="483.70" x2="455.40" y2="483.70" stroke="#000" stroke-width="1.4"/>
<line x1="449.10" y1="423.30" x2="455.40" y2="423.30" stroke="#000" stroke-width="1.4"/>
<line x1="449.10" y1="362.90" x2="455.40" y2="362.90" stroke="#000" stroke-width="1.4"/>
<text transform="translate(441.80,544.10) rotate(-90)" text-anchor="middle" font-size="12">0.000</text>
<text transform="translate(441.80,483.70) rotate(-90)" text-anchor="middle" font-size="12">0.001</text>
<text transform="translate(441.80,423.30) rotate(-90)" text-anchor="middle" font-size="12">0.002</text>
<text transform="translate(441.80,362.90) rotate(-90)" text-anchor="middle" font-size="12">0.003</text>
<text transform="translate(11.70,430.00) rotate(-90)" text-anchor="middle" font-size="14.4">Density</text>
</svg>
</body></html>
